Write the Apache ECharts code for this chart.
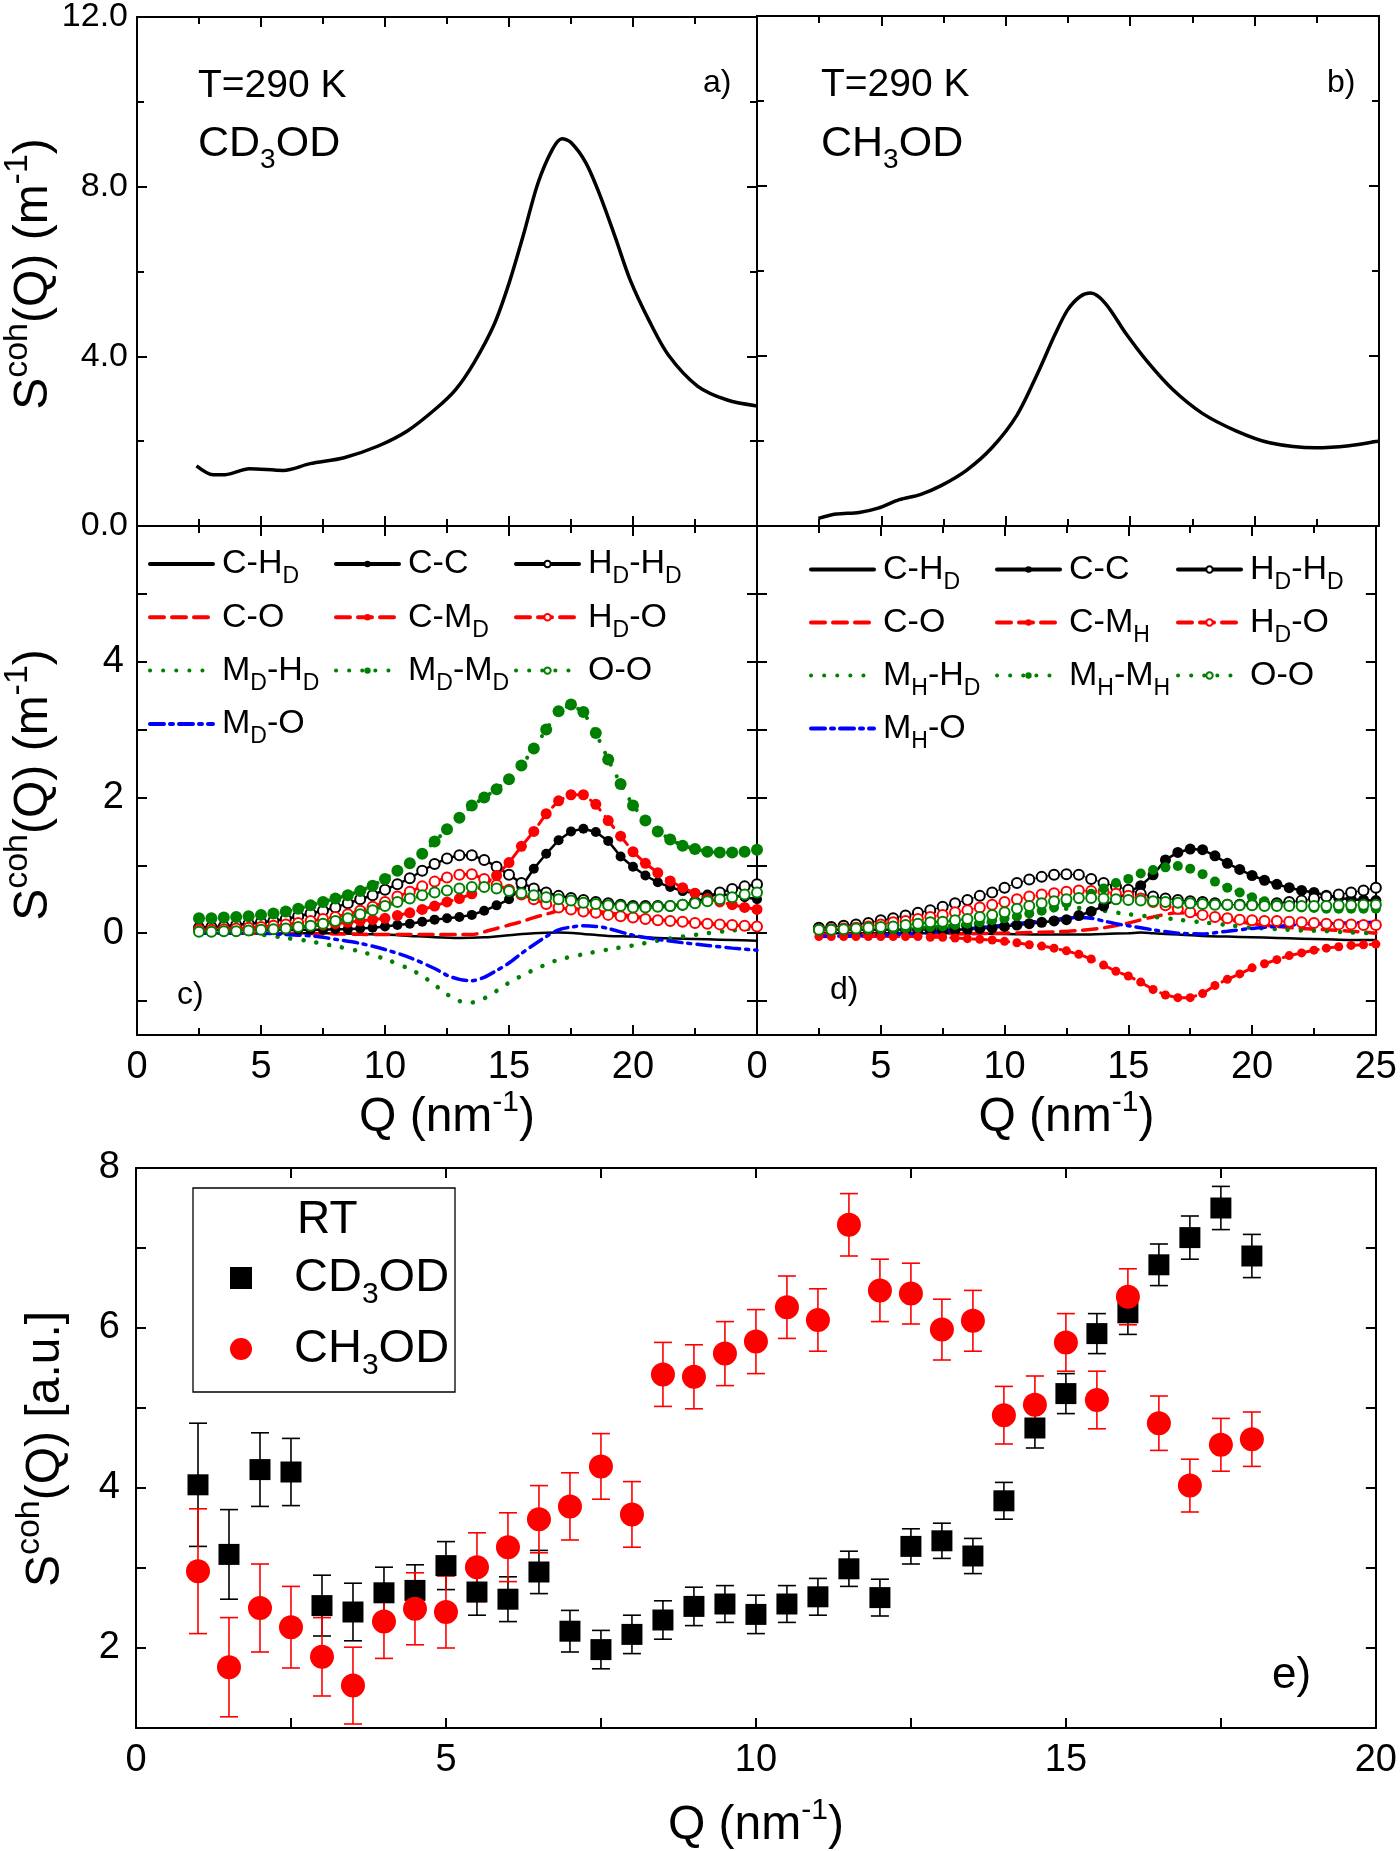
<!DOCTYPE html>
<html>
<head>
<meta charset="utf-8">
<title>S(Q) methanol</title>
<script src="https://cdn.jsdelivr.net/npm/echarts@6.0.0/dist/echarts.min.js"></script>
<style>
  html, body { margin: 0; padding: 0; background: #fff; }
  #chart { width: 1400px; height: 1851px; }
</style>
</head>
<body>
<div id="chart"></div>
<script>
var FONT = '"Liberation Sans", Arial, sans-serif';

// a) / b) total coherent S(Q)
var qTotA = [2.4,3.07,3.56,4.53,5.9,6.98,8.35,9.7,10.9,12.06,12.84,13.6,14.4,15.0,15.58,16.16,16.75,17.14,17.5,18.1,18.7,19.3,19.88,20.66,21.44,22.6,23.8,25];
var sTotA = [1.42,1.21,1.21,1.35,1.31,1.47,1.61,1.88,2.24,2.77,3.21,3.86,4.75,5.72,6.86,8.07,8.88,9.13,9.04,8.56,7.75,6.78,5.81,4.83,4.02,3.30,2.97,2.83];
var qTotB = [2.47,3.18,4.11,4.87,5.72,6.56,7.4,8.42,9.44,10.45,11.3,11.98,12.48,12.99,13.41,14.0,14.85,15.7,16.71,17.9,19.25,20.6,22.46,23.8,25];
var sTotB = [0.18,0.28,0.32,0.42,0.62,0.74,0.95,1.31,1.84,2.61,3.62,4.51,5.08,5.40,5.48,5.24,4.51,3.86,3.21,2.65,2.24,1.96,1.84,1.89,2.0];

// c) / d) partials - Q grid of the curves drawn with markers
var qGrid = [2.5,3,3.5,4,4.5,5,5.5,6,6.5,7,7.5,8,8.5,9,9.5,10,10.5,11,11.5,12,12.5,13,13.5,14,14.5,15,15.5,16,16.5,17,17.5,18,18.5,19,19.5,20,20.5,21,21.5,22,22.5,23,23.5,24,24.5,25];

// CD3OD
var cCC   = [0.05,0.05,0.05,0.05,0.05,0.05,0.05,0.05,0.05,0.05, 0.05,0.06,0.06,0.07,0.08,0.10,0.12,0.14,0.17,0.20, 0.22,0.24,0.27,0.33,0.41,0.50,0.68,0.95,1.17,1.37, 1.50,1.54,1.49,1.36,1.13,0.98,0.85,0.75,0.68,0.62, 0.59,0.57,0.57,0.56,0.53,0.50];
var cHDHD = [0.08,0.09,0.10,0.12,0.14,0.16,0.18,0.21,0.25,0.29, 0.33,0.38,0.44,0.50,0.56,0.64,0.72,0.81,0.92,1.02, 1.10,1.15,1.15,1.08,0.98,0.86,0.74,0.66,0.60,0.55, 0.52,0.49,0.46,0.44,0.42,0.40,0.40,0.40,0.40,0.42, 0.46,0.52,0.60,0.65,0.69,0.72];
var cCMD  = [0.05,0.05,0.05,0.06,0.06,0.07,0.08,0.09,0.10,0.11, 0.12,0.14,0.16,0.18,0.20,0.22,0.26,0.30,0.35,0.40, 0.46,0.51,0.58,0.72,0.85,1.04,1.28,1.50,1.76,1.95, 2.04,2.04,1.90,1.66,1.43,1.20,1.03,0.89,0.77,0.67, 0.59,0.51,0.46,0.42,0.38,0.35];
var cHDO  = [0.05,0.05,0.06,0.07,0.08,0.09,0.11,0.13,0.15,0.18, 0.21,0.24,0.28,0.33,0.39,0.46,0.54,0.61,0.69,0.76, 0.82,0.86,0.87,0.80,0.71,0.64,0.57,0.50,0.43,0.38, 0.35,0.32,0.30,0.27,0.25,0.23,0.21,0.19,0.18,0.17, 0.15,0.14,0.13,0.12,0.11,0.10];
var cMDMD = [0.22,0.22,0.23,0.24,0.25,0.27,0.29,0.32,0.36,0.41, 0.46,0.51,0.56,0.62,0.70,0.80,0.92,1.03,1.17,1.35, 1.53,1.70,1.88,2.00,2.12,2.27,2.47,2.72,3.00,3.27, 3.37,3.26,2.95,2.56,2.20,1.88,1.66,1.50,1.38,1.29, 1.24,1.20,1.19,1.19,1.20,1.23];
var cOO   = [0.02,0.02,0.03,0.03,0.04,0.05,0.06,0.07,0.09,0.11, 0.14,0.18,0.22,0.28,0.34,0.40,0.46,0.51,0.56,0.60, 0.63,0.66,0.68,0.68,0.66,0.62,0.59,0.56,0.53,0.50, 0.48,0.45,0.43,0.41,0.40,0.38,0.38,0.39,0.40,0.42, 0.44,0.47,0.50,0.53,0.57,0.60];
var qCHDc = [2.5,5,7.5,9,10,11,12,13,14,15,16,17,18,19,20,21,22,23,24,25];
var vCHDc = [0,0,0,-0.01,-0.02,-0.04,-0.06,-0.07,-0.06,-0.03,0,0.01,-0.01,-0.04,-0.05,-0.07,-0.08,-0.09,-0.10,-0.11];
var qCOc = [2.5,5,8,10,12,13,13.5,14,14.5,15,15.5,16,16.5,17,17.5,18,19,20,21,22,23,24,25];
var vCOc = [0,0,-0.01,-0.02,-0.02,-0.02,-0.02,0.02,0.07,0.12,0.17,0.23,0.28,0.33,0.36,0.35,0.30,0.25,0.20,0.17,0.14,0.12,0.10];
var qMDHDc = [2.5,4,5,6,7,7.5,8,9,10,11,11.5,12,12.5,13,13.5,14,14.5,15,15.5,16,16.5,17,18,19,20,21,22,23,24,25];
var vMDHDc = [0,0,-0.02,-0.07,-0.12,-0.16,-0.19,-0.27,-0.38,-0.53,-0.63,-0.76,-0.90,-1.00,-1.02,-0.96,-0.85,-0.73,-0.63,-0.54,-0.46,-0.39,-0.31,-0.24,-0.18,-0.11,-0.05,0,0.04,0.08];
var qMDOc = [2.5,4,5,6,7,7.5,8,9,10,11,12,12.5,13,13.5,14,14.5,15,15.5,16,16.5,17,17.5,18,18.5,19,20,21,22,23,24,25];
var vMDOc = [0,0,0,-0.02,-0.04,-0.06,-0.09,-0.15,-0.24,-0.36,-0.52,-0.62,-0.68,-0.70,-0.65,-0.55,-0.44,-0.30,-0.17,-0.05,0.05,0.09,0.11,0.10,0.07,-0.03,-0.09,-0.14,-0.18,-0.22,-0.25];

// CH3OD
var dCC   = [0.05,0.05,0.05,0.05,0.05,0.05,0.05,0.05,0.05,0.05, 0.05,0.05,0.06,0.07,0.08,0.10,0.12,0.14,0.16,0.18, 0.20,0.26,0.32,0.40,0.50,0.60,0.70,0.86,1.08,1.19, 1.24,1.23,1.14,1.03,0.94,0.85,0.78,0.72,0.67,0.63, 0.60,0.56,0.52,0.50,0.49,0.48];
var dHDHD = [0.08,0.09,0.11,0.13,0.15,0.19,0.22,0.26,0.30,0.34, 0.39,0.44,0.49,0.55,0.60,0.67,0.74,0.79,0.83,0.86, 0.87,0.86,0.80,0.74,0.69,0.64,0.58,0.54,0.51,0.49, 0.47,0.46,0.44,0.42,0.42,0.42,0.42,0.44,0.46,0.48, 0.51,0.54,0.57,0.60,0.63,0.67];
var dCMH  = [-0.05,-0.05,-0.05,-0.05,-0.05,-0.05,-0.05,-0.05,-0.05,-0.06, -0.06,-0.07,-0.08,-0.09,-0.10,-0.12,-0.14,-0.17,-0.19,-0.22, -0.26,-0.31,-0.38,-0.47,-0.56,-0.63,-0.72,-0.83,-0.91,-0.95, -0.95,-0.89,-0.77,-0.68,-0.60,-0.51,-0.45,-0.39,-0.33,-0.29, -0.25,-0.22,-0.20,-0.18,-0.17,-0.16];
var dHDO  = [0.05,0.06,0.07,0.08,0.10,0.13,0.16,0.18,0.21,0.24, 0.27,0.31,0.34,0.38,0.42,0.46,0.50,0.54,0.57,0.59, 0.61,0.63,0.62,0.61,0.58,0.55,0.51,0.46,0.41,0.36, 0.31,0.27,0.24,0.22,0.20,0.19,0.18,0.18,0.17,0.16, 0.15,0.14,0.13,0.13,0.12,0.12];
var dMHMH = [0.05,0.05,0.05,0.05,0.05,0.06,0.06,0.07,0.08,0.09, 0.10,0.12,0.14,0.16,0.19,0.22,0.25,0.29,0.33,0.38, 0.44,0.50,0.58,0.66,0.74,0.80,0.88,0.93,0.97,0.99, 0.95,0.87,0.76,0.67,0.60,0.53,0.47,0.43,0.40,0.38, 0.37,0.36,0.36,0.36,0.36,0.36];
var dOO   = [0.05,0.05,0.06,0.07,0.08,0.09,0.10,0.12,0.14,0.16, 0.17,0.19,0.21,0.24,0.27,0.31,0.36,0.40,0.44,0.47, 0.50,0.52,0.52,0.51,0.50,0.49,0.48,0.47,0.46,0.45, 0.44,0.43,0.42,0.42,0.41,0.41,0.40,0.40,0.40,0.40, 0.40,0.40,0.41,0.41,0.42,0.42];
var qCHDd = [2.5,5,7.5,10,12,13,14,15,15.5,16,17,18,19,20,21,22,23,24,25];
var vCHDd = [0,0,0,-0.01,-0.02,-0.02,-0.01,0,0.01,0,-0.02,-0.04,-0.05,-0.06,-0.07,-0.08,-0.09,-0.10,-0.10];
var qCOd = [2.5,5,8,10,12,13,14,15,16,17,17.5,18,19,20,21,22,23,24,25];
var vCOd = [-0.02,-0.02,-0.01,0,0.02,0.04,0.08,0.15,0.24,0.30,0.29,0.26,0.20,0.14,0.10,0.07,0.05,0.03,0];
var qMHHDd = [2.5,5,7.5,9,10,11,12,13,14,15,16,17,18,19,20,21,22,23,24,25];
var vMHHDd = [0.02,0.04,0.08,0.14,0.20,0.28,0.34,0.37,0.33,0.28,0.24,0.20,0.16,0.12,0.08,0.06,0.04,0.03,0.01,0];
var qMHOd = [2.5,4,5,6,7,8,9,10,11,12,13,13.5,14,14.5,15,16,17,18,19,20,21,22,23,24,25];
var vMHOd = [-0.05,-0.04,-0.03,-0.01,0.01,0.05,0.08,0.12,0.16,0.20,0.23,0.22,0.18,0.14,0.11,0.05,0,-0.01,0.03,0.07,0.10,0.13,0.14,0.15,0.16];

// e) measured points at RT
var qE = [1,1.5,2,2.5,3,3.5,4,4.5,5,5.5,6,6.5,7,7.5,8,8.5,9,9.5,10,10.5,11,11.5,12,12.5,13,13.5,14,14.5,15,15.5,16,16.5,17,17.5,18];
var sCD3OD = [4.04,3.17,4.23,4.20,2.53,2.45,2.69,2.72,3.03,2.70,2.61,2.95,2.21,1.98,2.17,2.35,2.52,2.55,2.42,2.55,2.64,2.99,2.63,3.27,3.34,3.15,3.84,4.75,5.18,5.93,6.19,6.79,7.13,7.50,6.90];
var eCD3OD = [0.77,0.56,0.46,0.42,0.38,0.36,0.32,0.32,0.30,0.29,0.28,0.27,0.26,0.24,0.24,0.24,0.24,0.23,0.24,0.23,0.23,0.22,0.23,0.22,0.22,0.22,0.23,0.25,0.25,0.25,0.27,0.26,0.27,0.27,0.27];
var sCH3OD = [2.96,1.76,2.50,2.26,1.89,1.53,2.33,2.49,2.45,3.01,3.26,3.61,3.77,4.27,3.67,5.42,5.39,5.68,5.83,6.26,6.10,7.29,6.47,6.43,5.98,6.09,4.91,5.04,5.82,5.10,6.39,4.81,4.03,4.54,4.61];
var eCH3OD = [0.78,0.62,0.55,0.51,0.49,0.48,0.46,0.45,0.45,0.43,0.43,0.42,0.42,0.41,0.41,0.40,0.40,0.40,0.40,0.39,0.39,0.39,0.39,0.38,0.38,0.38,0.36,0.36,0.36,0.36,0.35,0.34,0.33,0.33,0.34];

var BLACK = '#000000', RED = '#ff0000', GREEN = '#008000', BLUE = '#0000ff';
var AX = {color: '#000', width: 2};

function pairs(qs, vs) {
  return qs.map(function (q, i) { return [q, vs[i]]; });
}

function baseAxis(extra) {
  var o = {
    type: 'value',
    axisLine: {show: true, onZero: false, lineStyle: AX},
    axisTick: {show: true, inside: true, length: 10, lineStyle: AX},
    splitLine: {show: false},
    axisLabel: {show: false}
  };
  for (var k in extra) o[k] = extra[k];
  return o;
}

function tickLabel(size, margin, fmt) {
  return {show: true, fontSize: size, fontFamily: FONT, color: '#000', margin: margin, formatter: fmt};
}

var minor25 = {show: true, splitNumber: 2, length: 7, lineStyle: AX};
var qName = '{n|Q (nm}{p|-1}{n|)}';
var nameRich = {
  n: {fontSize: 48, fontFamily: FONT, color: '#000'},
  p: {fontSize: 30, fontFamily: FONT, color: '#000', padding: [0, 0, 30, 0]}
};

var xAxes = [];
[0, 1, 2, 3].forEach(function (g) {
  var lab = g >= 2;
  xAxes.push(baseAxis({
    gridIndex: g, position: 'bottom', min: 0, max: 25, interval: 5, minorTick: minor25,
    axisLabel: lab ? tickLabel(38, 14, g === 2 ? function (v) { return v === 25 ? '' : v; } : '{value}') : {show: false},
    name: lab ? qName : '', nameLocation: 'middle', nameGap: 43,
    nameTextStyle: {rich: nameRich}
  }));
  xAxes.push(baseAxis({gridIndex: g, position: 'top', min: 0, max: 25, interval: 5, minorTick: minor25}));
});
xAxes.push(baseAxis({
  gridIndex: 4, position: 'bottom', min: 0, max: 20, interval: 5,
  minorTick: {show: true, splitNumber: 2, length: 10, lineStyle: AX},
  axisLabel: tickLabel(38, 14, '{value}'),
  name: qName, nameLocation: 'middle', nameGap: 68, nameTextStyle: {rich: nameRich}
}));
xAxes.push(baseAxis({gridIndex: 4, position: 'top', min: 0, max: 20, interval: 5,
  minorTick: {show: true, splitNumber: 2, length: 10, lineStyle: AX}}));

var yAxes = [];
var minor12 = {show: true, splitNumber: 2, length: 7, lineStyle: AX};
yAxes.push(baseAxis({gridIndex: 0, position: 'left', min: 0, max: 12, interval: 4, minorTick: minor12,
  axisLabel: tickLabel(34, 9, function (v) { return v.toFixed(1); })}));
yAxes.push(baseAxis({gridIndex: 0, position: 'right', min: 0, max: 12, interval: 4, minorTick: minor12}));
yAxes.push(baseAxis({gridIndex: 1, position: 'left', min: 0, max: 12, interval: 4, minorTick: minor12}));
yAxes.push(baseAxis({gridIndex: 1, position: 'right', min: 0, max: 12, interval: 4, minorTick: minor12}));
var partTicks = {show: true, inside: true, length: 10, lineStyle: AX, customValues: [-1, 0, 1, 2, 3, 4, 5]};
[2, 3].forEach(function (g) {
  var lab = g === 2;
  yAxes.push(baseAxis({gridIndex: g, position: 'left', min: -1.5, max: 6, axisTick: partTicks,
    axisLabel: lab ? (function () { var l = tickLabel(38, 13, '{value}'); l.customValues = [0, 2, 4]; return l; })() : {show: false}}));
  yAxes.push(baseAxis({gridIndex: g, position: 'right', min: -1.5, max: 6, axisTick: partTicks}));
});
yAxes.push(baseAxis({gridIndex: 4, position: 'left', min: 1, max: 8, interval: 1,
  axisLabel: tickLabel(38, 16, function (v) { return v % 2 === 0 ? v : ''; })}));
yAxes.push(baseAxis({gridIndex: 4, position: 'right', min: 1, max: 8, interval: 1}));

// partial curve helper
function curve(name, panel, qs, vs, color, dash, width, symbol, size, border) {
  var ax = panel === 'c' ? 4 : 6;
  var s = {
    name: name, type: 'line', xAxisIndex: ax, yAxisIndex: ax,
    data: pairs(qs, vs),
    lineStyle: {color: color, width: width, type: dash, cap: 'round'},
    itemStyle: {color: color},
    symbol: symbol || 'none',
    showAllSymbol: true,
    smooth: symbol ? false : 0.3,
    z: 3
  };
  if (symbol) {
    s.symbolSize = size;
    if (symbol === 'emptyCircle') s.itemStyle = {color: color, borderColor: color, borderWidth: border};
  }
  return s;
}

var DASH = [14, 8], DASHDOT = [14, 6, 3, 6], DOT = [0.1, 13];

var series = [
  {type: 'line', xAxisIndex: 0, yAxisIndex: 0, data: pairs(qTotA, sTotA), smooth: 0.3, symbol: 'none',
   lineStyle: {color: BLACK, width: 3.5}},
  {type: 'line', xAxisIndex: 2, yAxisIndex: 2, data: pairs(qTotB, sTotB), smooth: 0.3, symbol: 'none',
   lineStyle: {color: BLACK, width: 3.5}},

  curve('c_CHD', 'c', qCHDc, vCHDc, BLACK, 'solid', 2.5),
  curve('c_CC', 'c', qGrid, cCC, BLACK, 'solid', 2.5, 'circle', 10),
  curve('c_HDHD', 'c', qGrid, cHDHD, BLACK, 'solid', 2.5, 'emptyCircle', 10, 3),
  curve('c_CO', 'c', qCOc, vCOc, RED, DASH, 3.5),
  curve('c_CMD', 'c', qGrid, cCMD, RED, DASH, 3, 'circle', 11),
  curve('c_HDO', 'c', qGrid, cHDO, RED, DASH, 3, 'emptyCircle', 10, 3),
  curve('c_MDHD', 'c', qMDHDc, vMDHDc, GREEN, DOT, 4.5),
  curve('c_MDMD', 'c', qGrid, cMDMD, GREEN, DOT, 4, 'circle', 12),
  curve('c_OO', 'c', qGrid, cOO, GREEN, DOT, 4, 'emptyCircle', 10, 3),
  curve('c_MDO', 'c', qMDOc, vMDOc, BLUE, DASHDOT, 3.5),

  curve('d_CHD', 'd', qCHDd, vCHDd, BLACK, 'solid', 2.5),
  curve('d_CC', 'd', qGrid, dCC, BLACK, 'solid', 2.5, 'circle', 11),
  curve('d_HDHD', 'd', qGrid, dHDHD, BLACK, 'solid', 1, 'emptyCircle', 10, 1.2),
  curve('d_CO', 'd', qCOd, vCOd, RED, DASH, 3.5),
  curve('d_CMH', 'd', qGrid, dCMH, RED, DASH, 3, 'circle', 9),
  curve('d_HDO', 'd', qGrid, dHDO, RED, DASH, 1, 'emptyCircle', 10, 1.2),
  curve('d_MHHD', 'd', qMHHDd, vMHHDd, GREEN, DOT, 4.5),
  curve('d_MHMH', 'd', qGrid, dMHMH, GREEN, DOT, 4, 'circle', 10),
  curve('d_OO', 'd', qGrid, dOO, GREEN, DOT, 3, 'emptyCircle', 10, 1.2),
  curve('d_MHO', 'd', qMHOd, vMHOd, BLUE, DASHDOT, 3.5)
];

function errBar(params, api) {
  var x = api.value(0);
  var p1 = api.coord([x, api.value(2)]);
  var p2 = api.coord([x, api.value(1)]);
  var w = 9;
  var st = {stroke: api.visual('color'), lineWidth: 1.6};
  return {type: 'group', children: [
    {type: 'line', shape: {x1: p1[0], y1: p1[1], x2: p2[0], y2: p2[1]}, style: st},
    {type: 'line', shape: {x1: p1[0] - w, y1: p1[1], x2: p1[0] + w, y2: p1[1]}, style: st},
    {type: 'line', shape: {x1: p2[0] - w, y1: p2[1], x2: p2[0] + w, y2: p2[1]}, style: st}
  ]};
}
function errData(vals, errs) {
  return qE.map(function (q, i) { return [q, vals[i] - errs[i], vals[i] + errs[i]]; });
}

series.push(
  {name: 'CD3OD err', type: 'custom', xAxisIndex: 8, yAxisIndex: 8, renderItem: errBar,
   data: errData(sCD3OD, eCD3OD), encode: {x: 0, y: [1, 2]}, itemStyle: {color: BLACK}},
  {name: 'CD3OD', type: 'scatter', xAxisIndex: 8, yAxisIndex: 8, symbol: 'rect', symbolSize: 21,
   data: pairs(qE, sCD3OD), itemStyle: {color: BLACK, opacity: 1}},
  {name: 'CH3OD err', type: 'custom', xAxisIndex: 8, yAxisIndex: 8, renderItem: errBar,
   data: errData(sCH3OD, eCH3OD), encode: {x: 0, y: [1, 2]}, itemStyle: {color: RED}},
  {name: 'CH3OD', type: 'scatter', xAxisIndex: 8, yAxisIndex: 8, symbol: 'circle', symbolSize: 24,
   data: pairs(qE, sCH3OD), itemStyle: {color: RED, opacity: 1}}
);

// legend labels with subscripts
var legendText = {
  c_CHD: '{g| }{n|C-H}{s|D}', c_CC: '{g| }{n|C-C}{s| }', c_HDHD: '{g| }{n|H}{s|D}{n|-H}{s|D}',
  c_CO: '{g| }{n|C-O}{s| }', c_CMD: '{g| }{n|C-M}{s|D}', c_HDO: '{g| }{n|H}{s|D}{n|-O}',
  c_MDHD: '{g| }{n|M}{s|D}{n|-H}{s|D}', c_MDMD: '{g| }{n|M}{s|D}{n|-M}{s|D}', c_OO: '{g| }{n|O-O}{s| }',
  c_MDO: '{g| }{n|M}{s|D}{n|-O}',
  d_CHD: '{g| }{n|C-H}{s|D}', d_CC: '{g| }{n|C-C}{s| }', d_HDHD: '{g| }{n|H}{s|D}{n|-H}{s|D}',
  d_CO: '{g| }{n|C-O}{s| }', d_CMH: '{g| }{n|C-M}{s|H}', d_HDO: '{g| }{n|H}{s|D}{n|-O}',
  d_MHHD: '{g| }{n|M}{s|H}{n|-H}{s|D}', d_MHMH: '{g| }{n|M}{s|H}{n|-M}{s|H}', d_OO: '{g| }{n|O-O}{s| }',
  d_MHO: '{g| }{n|M}{s|H}{n|-O}',
  CD3OD: '{g| }{n|CD}{s|3}{n|OD}', CH3OD: '{g| }{n|CH}{s|3}{n|OD}'
};
// curves drawn without markers: no symbol in their legend sample
var lineOnly = ['c_CHD', 'c_CO', 'c_MDHD', 'c_MDO', 'd_CHD', 'd_CO', 'd_MHHD', 'd_MHO'];

var LEG_RICH = {
  g: {width: 4, lineHeight: 44},
  n: {fontSize: 34, fontFamily: FONT, color: '#000', lineHeight: 44},
  s: {fontSize: 23, fontFamily: FONT, color: '#000', padding: [26, 0, 0, 0], lineHeight: 44}
};
function legendCol(left, top, gap, names) {
  return {
    orient: 'vertical', left: left, top: top, itemGap: gap, itemWidth: 63, itemHeight: 8,
    padding: 0, selectedMode: false,
    data: names.map(function (n) {
      return lineOnly.indexOf(n) >= 0 ? {name: n, itemStyle: {opacity: 0}} : n;
    }),
    lineStyle: {width: 4},
    formatter: function (n) { return legendText[n]; },
    textStyle: {rich: LEG_RICH}
  };
}

var legends = [
  legendCol(148, 539.5, 4.3, ['c_CHD', 'c_CO', 'c_MDHD', 'c_MDO']),
  legendCol(334, 539.5, 4.3, ['c_CC', 'c_CMD', 'c_MDMD']),
  legendCol(514, 539.5, 4.3, ['c_HDHD', 'c_HDO', 'c_OO']),
  legendCol(809, 545, 4, ['d_CHD', 'd_CO', 'd_MHHD', 'd_MHO']),
  legendCol(995, 545, 4, ['d_CC', 'd_CMH', 'd_MHMH']),
  legendCol(1176, 545, 4, ['d_HDHD', 'd_HDO', 'd_OO']),
  {
    orient: 'vertical', left: 230, top: 1246, itemGap: 7, itemWidth: 22, itemHeight: 22,
    padding: 0, selectedMode: false, data: ['CD3OD', 'CH3OD'],
    formatter: function (n) { return legendText[n]; },
    textStyle: {rich: {
      g: {width: 37, lineHeight: 54},
      n: {fontSize: 47, fontFamily: FONT, color: '#000', lineHeight: 54},
      s: {fontSize: 30, fontFamily: FONT, color: '#000', padding: [34, 0, 0, 0], lineHeight: 54}
    }}
  }
];

var subRich = function (main, sub, shift) {
  return {
    n: {fontSize: main, fontFamily: FONT, color: '#000'},
    s: {fontSize: sub, fontFamily: FONT, color: '#000', padding: [shift, 0, 0, 0]}
  };
};
var supRich = {
  n: {fontSize: 48, fontFamily: FONT, color: '#000'},
  p: {fontSize: 34, fontFamily: FONT, color: '#000', padding: [0, 0, 32, 0]}
};

function txt(x, y, text, size) {
  return {type: 'text', x: x, y: y, z: 10,
    style: {text: text, fontSize: size, fontFamily: FONT, fill: '#000', verticalAlign: 'middle'}};
}
function richTxt(x, y, text, rich, rot) {
  return {type: 'text', x: x, y: y, rotation: rot || 0, z: 10,
    style: {text: text, rich: rich, align: rot ? 'center' : 'left', verticalAlign: 'middle'}};
}

var graphics = [
  txt(198, 86, 'T=290 K', 39),
  richTxt(198, 144, '{n|CD}{s|3}{n|OD}', subRich(43, 28, 32)),
  txt(821, 85, 'T=290 K', 39),
  richTxt(821, 144, '{n|CH}{s|3}{n|OD}', subRich(43, 28, 32)),
  txt(703, 83, 'a)', 32),
  txt(1327, 83, 'b)', 32),
  txt(177, 995, 'c)', 32),
  txt(830, 990, 'd)', 32),
  txt(1272, 1676, 'e)', 44),
  richTxt(34, 274, '{n|S}{p|coh}{n|(Q) (m}{p|-1}{n|)}', supRich, Math.PI / 2),
  richTxt(34, 785, '{n|S}{p|coh}{n|(Q) (m}{p|-1}{n|)}', supRich, Math.PI / 2),
  richTxt(46, 1449, '{n|S}{p|coh}{n|(Q) [a.u.]}', supRich, Math.PI / 2),
  {type: 'rect', z: 10, shape: {x: 193, y: 1188, width: 262, height: 204},
   style: {fill: 'none', stroke: '#000', lineWidth: 1.3}},
  txt(297, 1220, 'RT', 46)
];

var chart = echarts.init(document.getElementById('chart'));
var option = {
  animation: false,
  backgroundColor: '#fff',
  grid: [
    {left: 137, top: 16, width: 620, height: 510},
    {left: 757, top: 16, width: 622, height: 510},
    {left: 137, top: 526, width: 620, height: 509},
    {left: 757, top: 526, width: 622, height: 509},
    {left: 136, top: 1168, width: 1242, height: 566}
  ],
  xAxis: xAxes,
  yAxis: yAxes,
  legend: legends,
  graphic: graphics,
  series: series
};
chart.setOption(option);
</script>
</body>
</html>
